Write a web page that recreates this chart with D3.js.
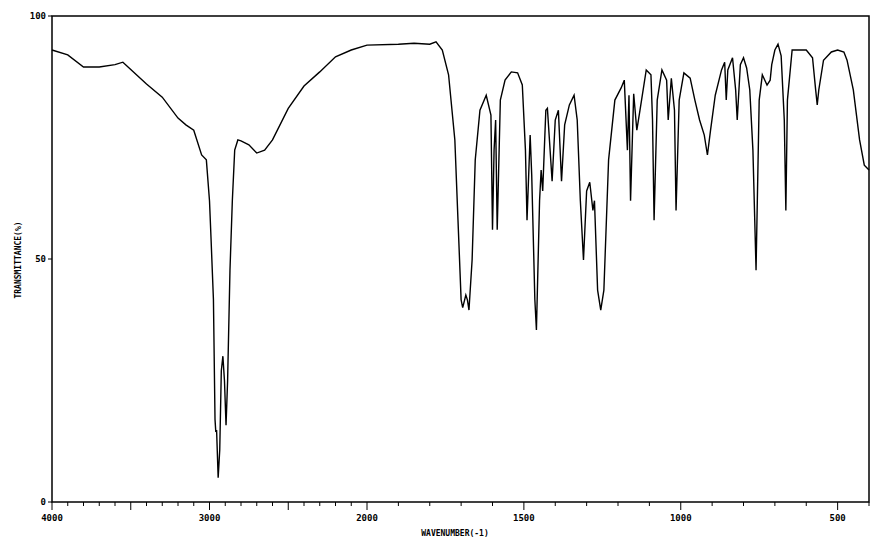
<!DOCTYPE html>
<html><head><meta charset="utf-8">
<script src="https://cdn.jsdelivr.net/npm/d3@7"></script>
<style>body{margin:0;background:#fff}text{font-family:"DejaVu Sans Mono",monospace;font-weight:bold}</style>
</head><body><svg id="c" width="878" height="546"></svg>
<script>
// wavenumber (cm-1) and transmittance (%)
var wavenumbers = [4000,3900,3800,3700,3600,3550,3500,3400,3300,3200,3150,3100,3050,3020,3000,2990,2975,2965,2960,2955,2945,2935,2925,2915,2905,2895,2885,2870,2855,2840,2820,2800,2750,2700,2650,2600,2500,2400,2300,2200,2100,2000,1900,1850,1800,1780,1760,1740,1720,1710,1700,1695,1685,1680,1675,1665,1655,1640,1620,1605,1600,1595,1590,1585,1575,1560,1540,1520,1505,1495,1490,1480,1475,1465,1460,1450,1445,1440,1430,1425,1410,1400,1390,1380,1370,1355,1340,1330,1320,1310,1300,1290,1280,1275,1265,1255,1245,1230,1210,1190,1180,1170,1165,1160,1150,1140,1130,1110,1095,1090,1085,1075,1060,1045,1040,1030,1020,1015,1005,990,970,955,940,925,915,905,890,870,860,855,850,835,825,820,810,800,790,780,770,760,750,740,725,715,710,700,690,680,670,665,660,645,620,600,580,570,565,560,545,520,500,480,470,450,430,415,400];
var transmittance = [93,92,89.5,89.5,90,90.5,89,86,83.3,79,77.6,76.5,71.4,70.4,62,54,41.6,17,14.4,14.8,5,10.7,27,30,25,15.8,25,47.7,62,72.4,74.5,74.3,73.5,71.8,72.4,74.5,81,85.6,88.5,91.6,93,94,94.2,94.4,94.2,94.7,93,87.9,74.5,58,41.6,40,42.6,41.6,39.5,49.8,70.4,80.6,83.7,79.6,56,72.4,78.6,56,82.7,86.8,88.5,88.3,85.8,72.4,58,75.5,67.3,41.6,35.4,62,68.3,64,80.6,81,66,78.6,80.6,66,77.6,81.7,83.7,78.6,62,49.8,64,65.8,60,62,43.6,39.5,43.6,70.4,82.7,85.2,86.8,72.4,83.7,62,84,76.5,80.6,88.9,87.9,78.6,58,82.7,88.9,86.8,78.6,87.2,80.6,60,82.7,88.3,87.2,82.7,78.6,75.5,71.4,76.5,83.7,88.9,90.5,82.7,88.9,91.4,84.8,78.6,90,91.4,89.3,84.8,72.4,47.7,82.7,87.9,85.8,86.8,90,93,94.2,91.8,78.6,60,82.7,93,93,93,91.4,84.8,81.7,84.8,90.9,92.6,93,92.6,90.9,84.8,74.5,69.3,68.3];
var xLabels = [4000,3000,2000,1500,1000,500];
var yLabels = [0,50,100];

var svg = d3.select('#c');
var pLeft = 52, pRight = 869, pTop = 16, pBottom = 502;
var x = d3.scaleLinear().domain([4000,2000,400]).range([pLeft,367,pRight]);
var y = d3.scaleLinear().domain([0,100]).range([pBottom,pTop]);

svg.append('rect').attr('x',pLeft).attr('y',pTop).attr('width',pRight-pLeft).attr('height',pBottom-pTop)
  .attr('fill','none').attr('stroke','#000').attr('stroke-width',1.5);

var minor = d3.range(4000,399,-100);
svg.selectAll('line.t').data(minor).enter().append('line')
  .attr('x1',function(d){return x(d);}).attr('x2',function(d){return x(d);})
  .attr('y1',pBottom).attr('y2',function(d){return pBottom+(d%500==0?8:4);})
  .attr('stroke','#000');
svg.selectAll('text.xl').data(xLabels).enter().append('text')
  .attr('x',function(d){return x(d);}).attr('y',pBottom+19).attr('text-anchor','middle')
  .attr('font-size',9).text(function(d){return d;});
svg.selectAll('text.yl').data(yLabels).enter().append('text')
  .attr('x',pLeft-6).attr('y',function(d){return y(d)+3;}).attr('text-anchor','end')
  .attr('font-size',9).text(function(d){return d;});
svg.selectAll('line.yt').data(yLabels).enter().append('line')
  .attr('x1',pLeft-4).attr('x2',pLeft).attr('y1',function(d){return y(d);}).attr('y2',function(d){return y(d);})
  .attr('stroke','#000');

svg.append('text').attr('x',455).attr('y',536).attr('text-anchor','middle').attr('font-size',8).text('WAVENUMBER(-1)');
svg.append('text').attr('transform','translate(21,260) rotate(-90)').attr('text-anchor','middle').attr('font-size',8).text('TRANSMITTANCE(%)');

var line = d3.line().x(function(d){return x(d[0]);}).y(function(d){return y(d[1]);});
svg.append('path').datum(d3.zip(wavenumbers,transmittance)).attr('d',line)
  .attr('fill','none').attr('stroke','#000').attr('stroke-width',1.4);
</script></body></html>
